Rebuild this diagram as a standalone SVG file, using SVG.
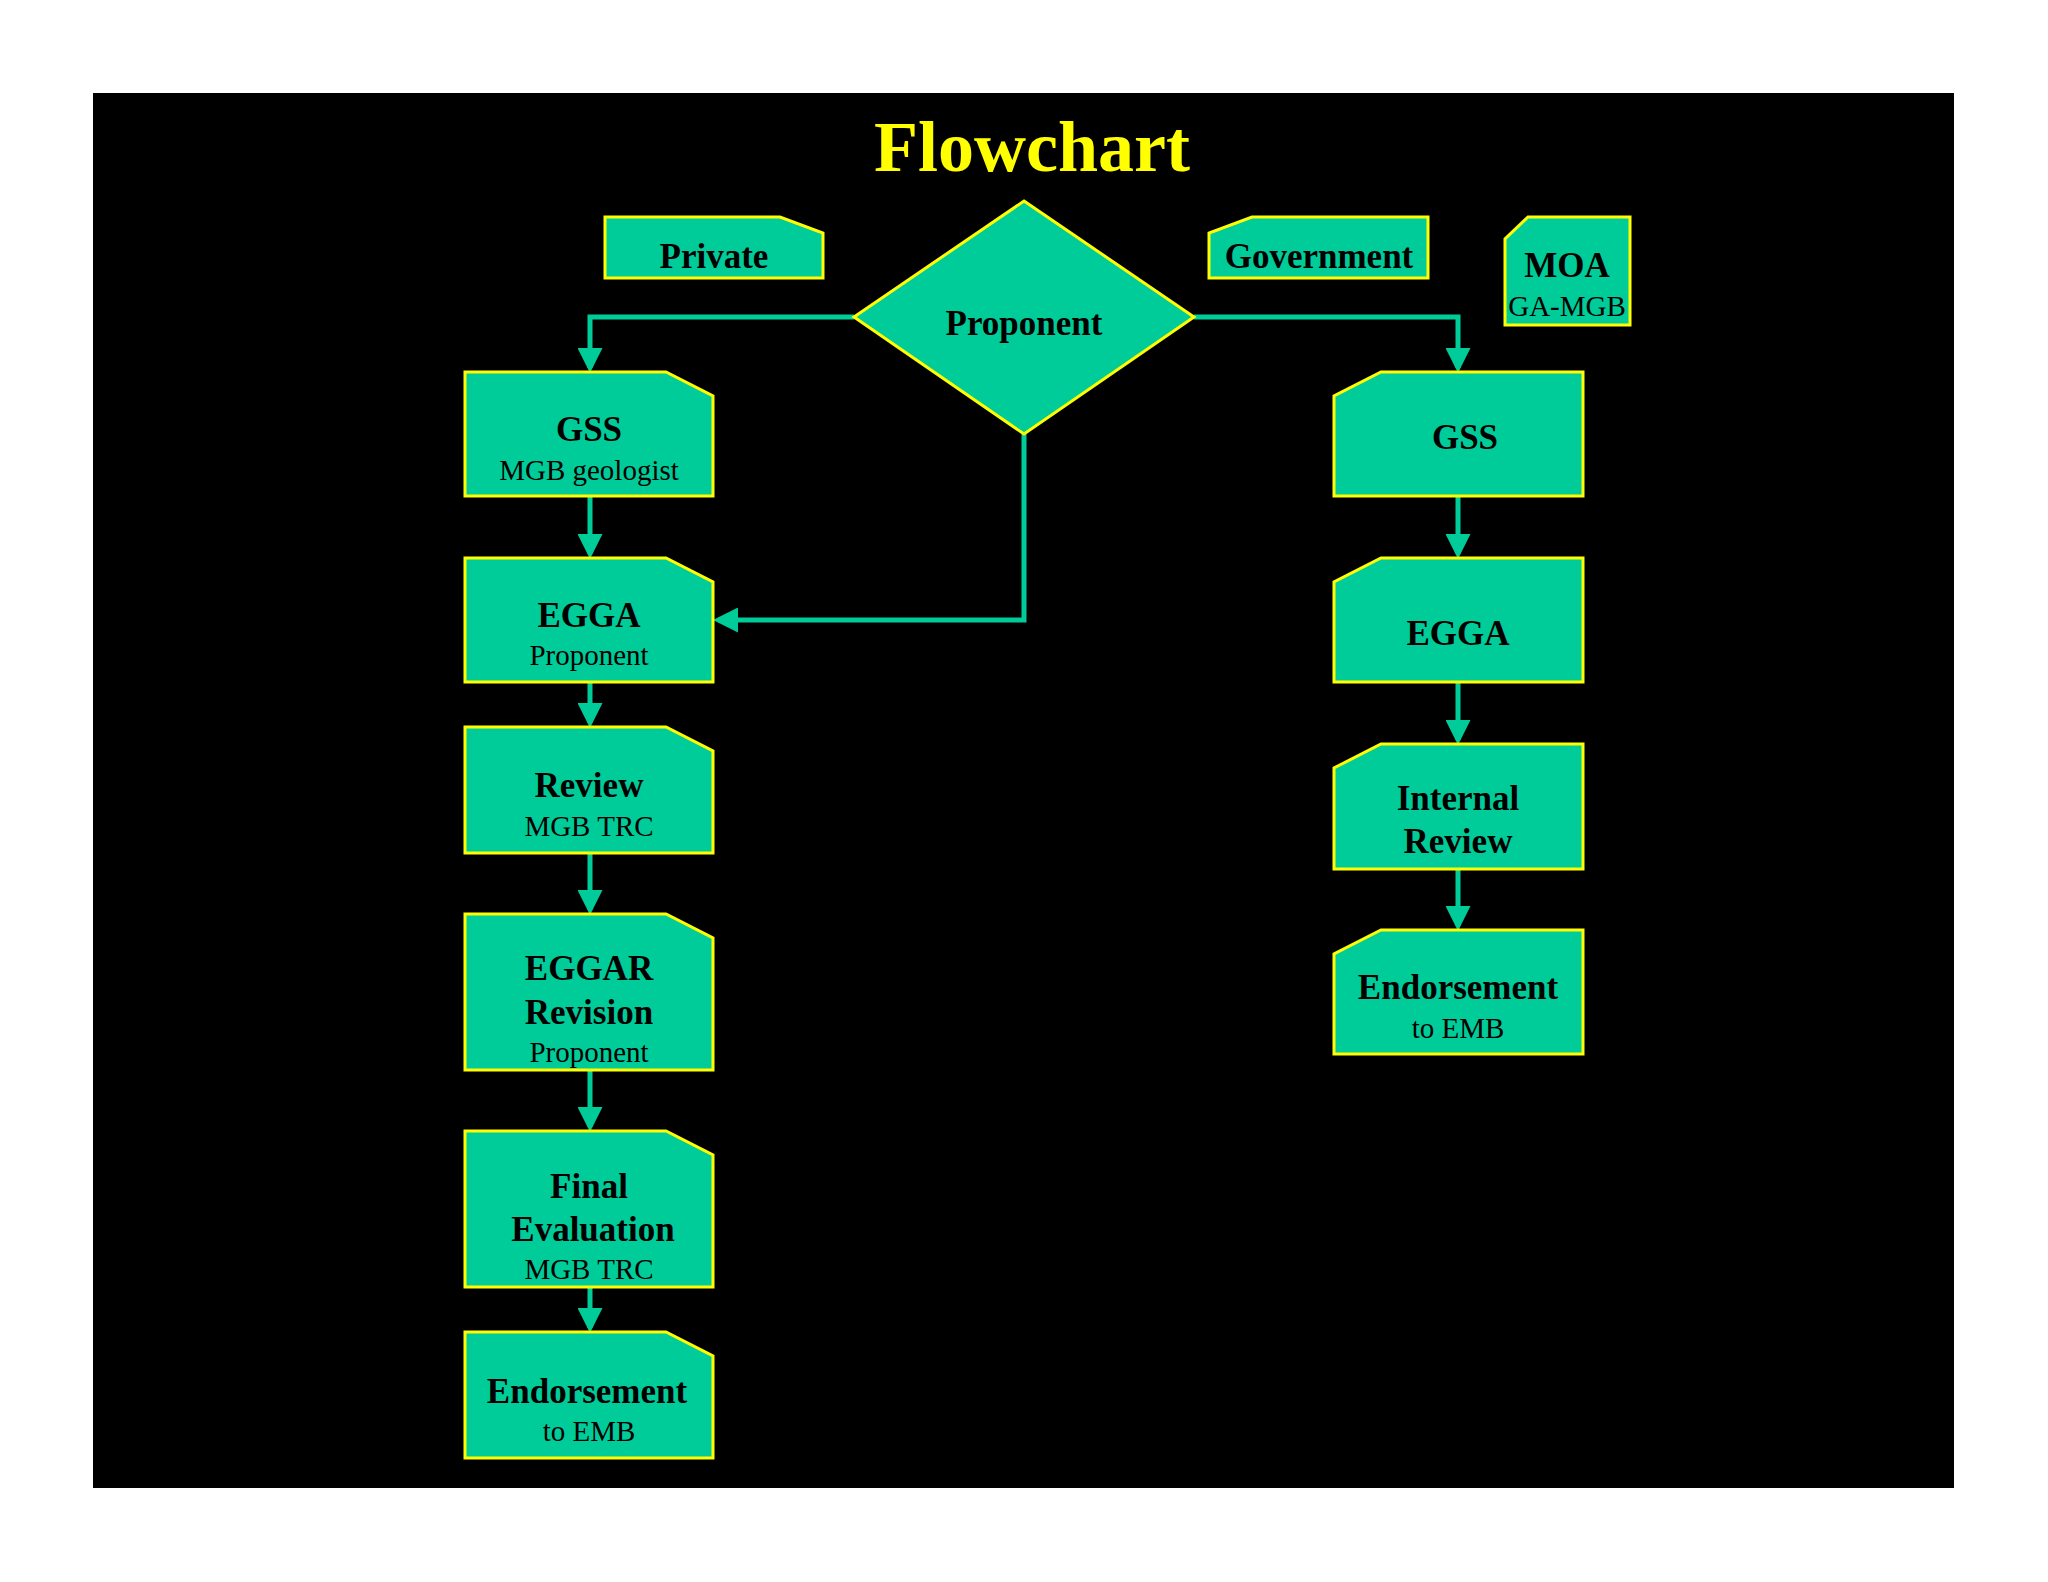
<svg xmlns="http://www.w3.org/2000/svg" width="2048" height="1582" viewBox="0 0 2048 1582">
<style>
.n{fill:#00CC99;stroke:#FFFF00;stroke-width:3}
.t{font-family:"Liberation Serif",serif;font-weight:bold;font-size:35px;fill:#000;text-anchor:middle}
.s{font-family:"Liberation Serif",serif;font-size:29px;fill:#000;text-anchor:middle}
.c{fill:none;stroke:#00CC99;stroke-width:5}
</style>
<defs><marker id="a" markerWidth="5" markerHeight="5" refX="4" refY="2.5" orient="auto" markerUnits="strokeWidth"><path d="M0,0L5,2.5L0,5z" fill="#00CC99"/></marker></defs>
<rect width="2048" height="1582" fill="#fff"/>
<rect x="93" y="93" width="1861" height="1395" fill="#000"/>
<text x="1032" y="171" font-family="Liberation Serif,serif" font-weight="bold" font-size="72" fill="#FFFF00" text-anchor="middle">Flowchart</text>
<g id="connectors">
<path class="c" d="M854,317H590V368" marker-end="url(#a)"/>
<path class="c" d="M1194,317H1458V368" marker-end="url(#a)"/>
<path class="c" d="M1024,434V620H718" marker-end="url(#a)"/>
<path class="c" d="M590,496V554" marker-end="url(#a)"/>
<path class="c" d="M590,682V723" marker-end="url(#a)"/>
<path class="c" d="M590,853V910" marker-end="url(#a)"/>
<path class="c" d="M590,1070V1127" marker-end="url(#a)"/>
<path class="c" d="M590,1287V1328" marker-end="url(#a)"/>
<path class="c" d="M1458,496V554" marker-end="url(#a)"/>
<path class="c" d="M1458,682V740" marker-end="url(#a)"/>
<path class="c" d="M1458,869V926" marker-end="url(#a)"/>
</g>
<g id="private"><path class="n" d="M605,217H780L823,233V278H605Z"/><text class="t" x="714" y="268">Private</text></g>
<g id="government"><path class="n" d="M1252,217H1428V278H1209V233Z"/><text class="t" x="1319" y="268">Government</text></g>
<g id="moa"><path class="n" d="M1528,217H1630V325H1505V239Z"/><text class="t" x="1567" y="277">MOA</text><text class="s" x="1567" y="316">GA-MGB</text></g>
<g id="proponent"><path class="n" d="M1024,201L1194,317L1024,434L854,317Z"/><text class="t" x="1024" y="335" font-size="50">Proponent</text></g>
<g id="gss-l"><path class="n" d="M465,372H666L713,396V496H465Z"/><text class="t" x="589" y="441">GSS</text><text class="s" x="589" y="480">MGB geologist</text></g>
<g id="egga-l"><path class="n" d="M465,558H666L713,582V682H465Z"/><text class="t" x="589" y="627">EGGA</text><text class="s" x="589" y="665">Proponent</text></g>
<g id="review"><path class="n" d="M465,727H666L713,751V853H465Z"/><text class="t" x="589" y="797">Review</text><text class="s" x="589" y="836">MGB TRC</text></g>
<g id="eggar"><path class="n" d="M465,914H666L713,938V1070H465Z"/><text class="t" x="589" y="980">EGGAR</text><text class="t" x="589" y="1024">Revision</text><text class="s" x="589" y="1062">Proponent</text></g>
<g id="final"><path class="n" d="M465,1131H666L713,1155V1287H465Z"/><text class="t" x="589" y="1198">Final</text><text class="t" x="593" y="1241">Evaluation</text><text class="s" x="589" y="1279">MGB TRC</text></g>
<g id="endorse-l"><path class="n" d="M465,1332H666L713,1356V1458H465Z"/><text class="t" x="587" y="1403">Endorsement</text><text class="s" x="589" y="1441">to EMB</text></g>
<g id="gss-r"><path class="n" d="M1381,372H1583V496H1334V396Z"/><text class="t" x="1465" y="449">GSS</text></g>
<g id="egga-r"><path class="n" d="M1381,558H1583V682H1334V582Z"/><text class="t" x="1458" y="645">EGGA</text></g>
<g id="internal"><path class="n" d="M1381,744H1583V869H1334V768Z"/><text class="t" x="1458" y="810">Internal</text><text class="t" x="1458" y="853">Review</text></g>
<g id="endorse-r"><path class="n" d="M1381,930H1583V1054H1334V954Z"/><text class="t" x="1458" y="999">Endorsement</text><text class="s" x="1458" y="1038">to EMB</text></g>
</svg>
